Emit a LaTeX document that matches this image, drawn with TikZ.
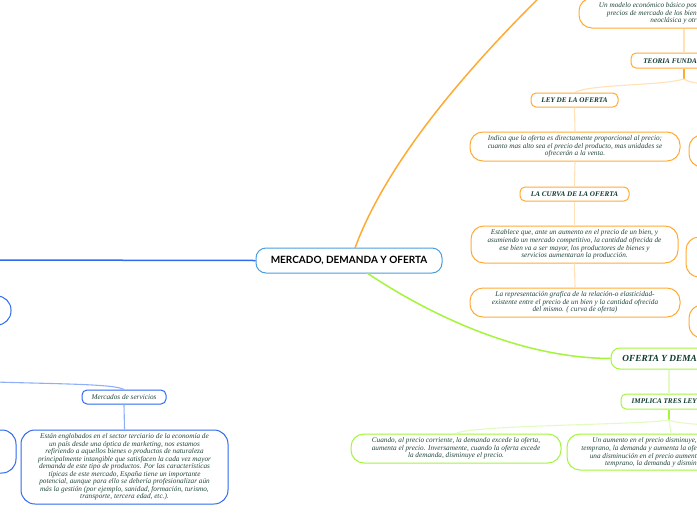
\documentclass[tikz,border=0pt]{standalone}
\usepackage{fontspec}
\setmainfont{Liberation Serif}
\newfontfamily\titlefont{Lato}
\definecolor{orangeM}{HTML}{FFAB33}
\definecolor{orangeL}{HTML}{FFE2B8}
\definecolor{greenM}{HTML}{A4F53C}
\definecolor{greenL}{HTML}{E2FBC0}
\definecolor{blueM}{HTML}{2F6BF0}
\definecolor{blueL}{HTML}{8FB0F8}
\definecolor{centerB}{HTML}{4A9EDC}
\definecolor{inkT}{HTML}{24483D}
\definecolor{inkH}{HTML}{0F3A2E}
\tikzset{
  mbox/.style={draw, fill=white, line width=1pt, inner sep=0pt, align=center, text=inkT,
    font=\fontsize{7.25}{7.55}\selectfont\itshape},
  hbox/.style={mbox, rounded corners=5pt, text=inkH, font=\fontsize{7.15}{7.5}\selectfont\itshape\bfseries},
  obox/.style={mbox, draw=orangeM, rounded corners=13pt},
  ohead/.style={hbox, draw=orangeM},
  gbox/.style={mbox, draw=greenM, rounded corners=13pt},
  ghead/.style={hbox, draw=greenM},
  bbox/.style={mbox, draw=blueM, rounded corners=14pt},
  cuttext/.style={anchor=east, align=right, text=inkT, inner sep=0pt, font=\fontsize{7.25}{7.55}\selectfont\itshape},
  cuthead/.style={anchor=east, text=inkH, inner sep=0pt, font=\fontsize{7.15}{7.5}\selectfont\itshape\bfseries},
  strong/.style={line width=1.3pt},
  soft/.style={line width=1.1pt}
}
\begin{document}
\begin{tikzpicture}[x=1pt,y=-1pt]
\useasboundingbox (0,0) rectangle (697,520);
\fill[white] (0,0) rectangle (697,520);
\clip (0,0) rectangle (697,520);

% free ends of the main branches
\coordinate (orangeEnd) at (545,-8);
\coordinate (blueEnd) at (-5,260);
\coordinate (teoSplit) at (684,79);
\coordinate (teoRight) at (705,84);
\coordinate (impSplit) at (669,420);
\coordinate (impRight) at (705,425);
\coordinate (blueFree) at (-5,382);
\coordinate (cn) at (355,248);
\coordinate (cs) at (367,273);

% nodes
\node[mbox, draw=centerB, rounded corners=10pt, minimum width=186pt, minimum height=25pt, text=black,
  font=\fontsize{10}{12}\selectfont\titlefont\bfseries] (central) at (349,260.5) {MERCADO, DEMANDA Y OFERTA};

\node[obox, minimum width=210pt, minimum height=30pt] (modelo) at (684,13) {};
\node[ohead, minimum width=106pt, minimum height=15pt] (teoria) at (684,60.5) {};
\node[ohead, minimum width=87pt, minimum height=14pt] (ley) at (574.5,100) {LEY DE LA OFERTA};
\node[obox, minimum width=210pt, minimum height=29pt] (indica) at (575,146.5)
 {Indica que la oferta es directamente proporcional al precio;\\cuanto mas alto sea el precio del producto, mas unidades se\\ofrecerán a la venta.};
\node[ohead, minimum width=109pt, minimum height=14pt] (curva) at (574.5,194) {LA CURVA DE LA OFERTA};
\node[obox, minimum width=207pt, minimum height=37pt] (establece) at (574.5,244.5)
 {Establece que, ante un aumento en el precio de un bien, y\\asumiendo un mercado competitivo, la cantidad ofrecida de\\ese bien va a ser mayor, los productores de bienes y\\servicios aumentaran la producción.};
\node[obox, minimum width=210pt, minimum height=29pt] (grafica) at (575,302.5)
 {La representación grafica de la relación-o elasticidad-\\existente entre el precio de un bien y la cantidad ofrecida\\del mismo. ( curva de oferta)};
\node[obox, minimum width=100pt, minimum height=32pt] (partA) at (739,151) {};
\node[obox, minimum width=100pt, minimum height=40pt] (partB) at (736,257) {};
\node[obox, minimum width=100pt, minimum height=33pt] (partC) at (739,321.5) {};

\node[gbox, rounded corners=9pt, minimum width=116pt, minimum height=21pt] (ofdem) at (669,358.5) {};
\node[ghead, minimum width=96pt, minimum height=15pt] (implica) at (669,401.5) {};
\node[gbox, minimum width=210pt, minimum height=29pt] (cuando) at (456,448.5)
 {Cuando, al precio corriente, la demanda excede la oferta,\\aumenta el precio. Inversamente, cuando la oferta excede\\la demanda, disminuye el precio.};
\node[gbox, minimum width=208pt, minimum height=36pt] (aumento) at (671,452) {};

\node[bbox, minimum width=100pt, minimum height=29pt] (partD) at (-39,310.5) {};
\node[bbox, minimum width=100pt, minimum height=43pt] (partE) at (-34,451.5) {};
\node[hbox, draw=blueM, font=\fontsize{7.25}{7.5}\selectfont\itshape, text=inkT, minimum width=84pt, minimum height=14pt] (servicios) at (124,397) {Mercados de servicios};
\node[bbox, minimum width=207pt, minimum height=74pt] (estan) at (124.5,467)
 {Están englobados en el sector terciario de la economía de\\un país desde una óptica de marketing, nos estamos\\refiriendo a aquellos bienes o productos de naturaleza\\principalmente intangible que satisfacen la cada vez mayor\\demanda de este tipo de productos. Por las características\\típicas de este mercado, España tiene un importante\\potencial, aunque para ello se debería profesionalizar aún\\más la gestión (por ejemplo, sanidad, formación, turismo,\\transporte, tercera edad, etc.).};

% texts cut by the page edge
\node[cuttext] (modeloT) at (697,13.5) {Un modelo económico básico pos\\precios de mercado de los bien\\neoclásica y otr};
\node[cuthead] (teoriaT) at (697,61) {TEORIA FUNDA};
\node[cuthead, font=\fontsize{9.3}{10}\selectfont\itshape\bfseries] (ofdemT) at (697,358.5) {OFERTA Y DEMA};
\node[cuthead] (implicaT) at (697,401.5) {IMPLICA TRES LEY};
\node[cuttext] (aumentoT) at (697,452.5) {Un aumento en el precio disminuye,\\temprano, la demanda y aumenta la ofe\\una disminución en el precio aument\\temprano, la demanda y dismin};

% connectors
\draw[orangeM, line width=1.5pt] (cn) .. controls (380,180) and (440,95) .. (orangeEnd);
\draw[greenM, line width=1.5pt] (cs) .. controls (430,315) and (520,358) .. (ofdem.west);
\draw[blueM, line width=1.5pt] (central.west) -- (blueEnd);
\draw[orangeL, soft] (modelo.south) -- (teoria.north);
\draw[orangeM, strong] (teoria.south) -- (teoSplit);
\draw[orangeL, soft] (teoSplit) .. controls (660,86) and (590,84) .. (ley.north);
\draw[orangeL, soft] (teoSplit) .. controls (688,82) and (695,83) .. (teoRight);
\draw[orangeL, soft] (ley.south) -- (indica.north);
\draw[orangeL, soft] (indica.south) -- (curva.north);
\draw[orangeL, soft] (curva.south) -- (establece.north);
\draw[orangeL, soft] (establece.south) -- (grafica.north);
\draw[greenL, soft] (ofdem.south) -- (implica.north);
\draw[greenM, strong] (implica.south) -- (impSplit);
\draw[greenL, soft] (impSplit) .. controls (640,425) and (470,425) .. (cuando.north);
\draw[greenL, soft] (impSplit) -- (aumento.north);
\draw[greenL, soft] (impSplit) .. controls (675,423) and (695,424) .. (impRight);
\draw[blueL, soft] (blueFree) .. controls (60,384) and (115,384) .. (servicios.north);
\draw[blueL, soft] (servicios.south) -- (estan.north);
\end{tikzpicture}
\end{document}
